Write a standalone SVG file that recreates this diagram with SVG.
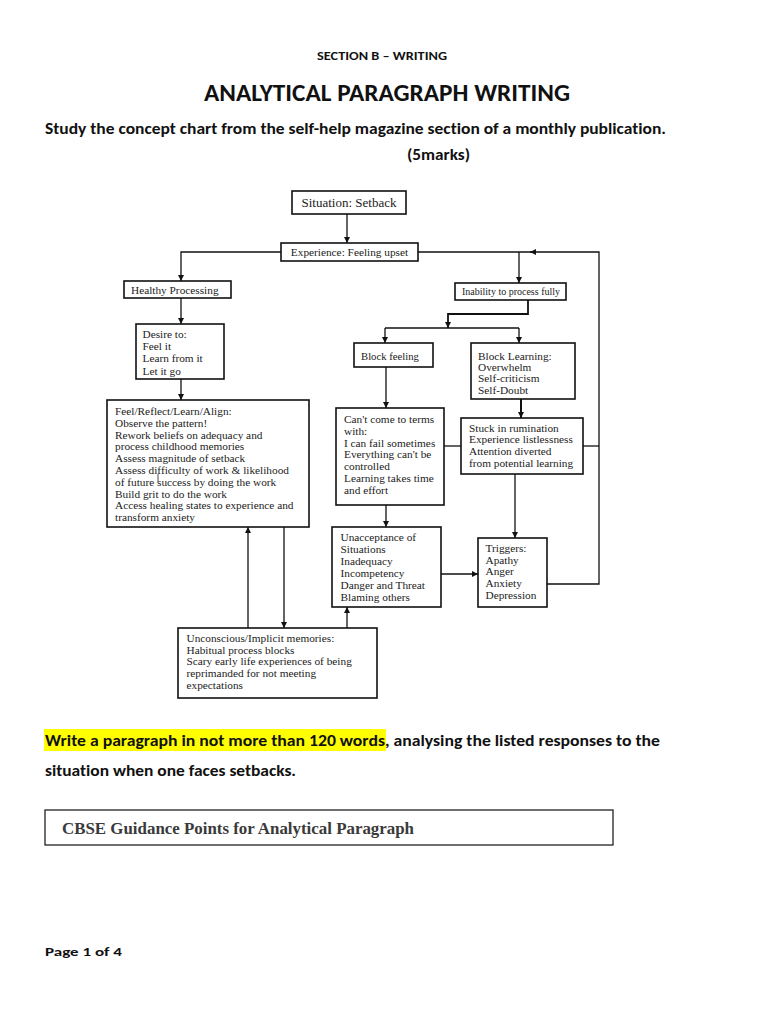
<svg xmlns="http://www.w3.org/2000/svg" width="768" height="1024" viewBox="0 0 768 1024">
<style>
.bg{fill:#ffffff}
.box{fill:#ffffff;stroke:#111;stroke-width:1.6}
.ln{fill:none;stroke:#111;stroke-width:1.3}
.t{font-family:"Liberation Serif","Times New Roman",serif;font-size:11.3px;fill:#222}
.h{font-family:Carlito,Lato,"Open Sans",sans-serif;font-weight:bold;fill:#111;font-variant-ligatures:none}
.cb{font-family:"Liberation Serif","Times New Roman",serif;font-weight:bold;font-size:16px;fill:#3a3a3a}
</style>
<defs>
<marker id="ah" viewBox="0 0 10 10" refX="10" refY="5" markerWidth="6" markerHeight="6" markerUnits="userSpaceOnUse" orient="auto">
<path d="M0,0 L10,5 L0,10 z" fill="#111"/>
</marker>
</defs>
<rect class="bg" x="0" y="0" width="768" height="1024"/>

<g id="header">
<text class="h" x="382" y="60" font-size="12.5" text-anchor="middle" textLength="130" lengthAdjust="spacingAndGlyphs">SECTION B – WRITING</text>
<text class="h" x="387" y="101" font-size="24" text-anchor="middle" textLength="366" lengthAdjust="spacingAndGlyphs">ANALYTICAL PARAGRAPH WRITING</text>
<text class="h" x="45" y="134" font-size="16" textLength="621" lengthAdjust="spacingAndGlyphs">Study the concept chart from the self-help magazine section of a monthly publication.</text>
<text class="h" x="407" y="160" font-size="16" textLength="63" lengthAdjust="spacingAndGlyphs">(5marks)</text>
</g>

<g id="connectors">
<path class="ln" d="M347,214 V243" marker-end="url(#ah)"/>
<path class="ln" d="M281,252 H181 V281" marker-end="url(#ah)"/>
<path class="ln" d="M547,584 H599 V252 H530" marker-end="url(#ah)"/>
<path class="ln" d="M533,252 H418"/>
<path class="ln" d="M519,252 V283" marker-end="url(#ah)"/>
<path class="ln" d="M181,298 V324" marker-end="url(#ah)"/>
<path class="ln" d="M181,379 V400" marker-end="url(#ah)"/>
<path class="ln" d="M528,300 V314 H448 V328" marker-end="url(#ah)" style="stroke-width:1.8"/>
<path class="ln" d="M385,328 H519"/>
<path class="ln" d="M385,328 V343" marker-end="url(#ah)"/>
<path class="ln" d="M519,328 V343" marker-end="url(#ah)"/>
<path class="ln" d="M386,367 V408" marker-end="url(#ah)"/>
<path class="ln" d="M521,399 V418" marker-end="url(#ah)" style="stroke-width:2"/>
<path class="ln" d="M444,446 H461"/>
<path class="ln" d="M583,446 H599"/>
<path class="ln" d="M515,474 V538" marker-end="url(#ah)"/>
<path class="ln" d="M386,505 V527" marker-end="url(#ah)"/>
<path class="ln" d="M441,574 H478" marker-end="url(#ah)"/>
<path class="ln" d="M248,628 V527" marker-end="url(#ah)"/>
<path class="ln" d="M284,527 V628" marker-end="url(#ah)"/>
<path class="ln" d="M347,628 V607" marker-end="url(#ah)"/>
</g>

<g id="situation">
<rect class="box" x="292" y="191" width="114" height="23"/>
<text class="t" x="349" y="206.5" style="font-size:13px" text-anchor="middle">Situation: Setback</text>
</g>
<g id="experience">
<rect class="box" x="281" y="243" width="137" height="18"/>
<text class="t" x="349.5" y="256" text-anchor="middle">Experience: Feeling upset</text>
</g>
<g id="healthy">
<rect class="box" x="124" y="281" width="107" height="17"/>
<text class="t" x="131" y="293.5">Healthy Processing</text>
</g>
<g id="inability">
<rect class="box" x="455" y="283" width="111" height="17"/>
<text class="t" x="462" y="295" style="font-size:10px">Inability to process fully</text>
</g>
<g id="desire">
<rect class="box" x="136" y="324" width="88" height="55"/>
<text class="t" x="142.5"><tspan x="142.5" y="337.8">Desire to:</tspan><tspan x="142.5" y="350.1">Feel it</tspan><tspan x="142.5" y="362.4">Learn from it</tspan><tspan x="142.5" y="374.7">Let it go</tspan></text>
</g>
<g id="feel">
<rect class="box" x="107" y="400" width="202" height="127"/>
<text class="t"><tspan x="115" y="415">Feel/Reflect/Learn/Align:</tspan><tspan x="115" y="426.8">Observe the pattern!</tspan><tspan x="115" y="438.6">Rework beliefs on adequacy and</tspan><tspan x="115" y="450.4">process childhood memories</tspan><tspan x="115" y="462.2">Assess magnitude of setback</tspan><tspan x="115" y="474">Assess difficulty of work &amp; likelihood</tspan><tspan x="115" y="485.8">of future success by doing the work</tspan><tspan x="115" y="497.6">Build grit to do the work</tspan><tspan x="115" y="509.4">Access healing states to experience and</tspan><tspan x="115" y="521.2">transform anxiety</tspan></text>
<path d="M158,474 V482" stroke="#222" stroke-width="0.8"/>
</g>
<g id="blockfeeling">
<rect class="box" x="354" y="343" width="79" height="24"/>
<text class="t" x="361" y="359.5" style="font-size:10.7px">Block feeling</text>
</g>
<g id="blocklearning">
<rect class="box" x="471" y="343" width="104" height="56"/>
<text class="t"><tspan x="478" y="359.5">Block Learning:</tspan><tspan x="478" y="370.9">Overwhelm</tspan><tspan x="478" y="382.3">Self-criticism</tspan><tspan x="478" y="393.7">Self-Doubt</tspan></text>
</g>
<g id="cantcome">
<rect class="box" x="336" y="408" width="108" height="97"/>
<text class="t"><tspan x="344" y="423">Can't come to terms</tspan><tspan x="344" y="434.8">with:</tspan><tspan x="344" y="446.6">I can fail sometimes</tspan><tspan x="344" y="458.4">Everything can't be</tspan><tspan x="344" y="470.2">controlled</tspan><tspan x="344" y="482">Learning takes time</tspan><tspan x="344" y="493.8">and effort</tspan></text>
</g>
<g id="stuck">
<rect class="box" x="461" y="418" width="122" height="56"/>
<text class="t"><tspan x="469" y="431.5">Stuck in rumination</tspan><tspan x="469" y="443.4">Experience listlessness</tspan><tspan x="469" y="455.3">Attention diverted</tspan><tspan x="469" y="467.2">from potential learning</tspan></text>
</g>
<g id="unacceptance">
<rect class="box" x="332" y="527" width="109" height="80"/>
<text class="t"><tspan x="340.5" y="541">Unacceptance of</tspan><tspan x="340.5" y="552.9">Situations</tspan><tspan x="340.5" y="564.8">Inadequacy</tspan><tspan x="340.5" y="576.7">Incompetency</tspan><tspan x="340.5" y="588.6">Danger and Threat</tspan><tspan x="340.5" y="600.5">Blaming others</tspan></text>
</g>
<g id="triggers">
<rect class="box" x="478" y="538" width="69" height="69"/>
<text class="t"><tspan x="485.5" y="552">Triggers:</tspan><tspan x="485.5" y="563.7">Apathy</tspan><tspan x="485.5" y="575.4">Anger</tspan><tspan x="485.5" y="587.1">Anxiety</tspan><tspan x="485.5" y="598.8">Depression</tspan></text>
</g>
<g id="unconscious">
<rect class="box" x="178" y="628" width="199" height="70"/>
<text class="t"><tspan x="186.5" y="642">Unconscious/Implicit memories:</tspan><tspan x="186.5" y="653.7">Habitual process blocks</tspan><tspan x="186.5" y="665.4">Scary early life experiences of being</tspan><tspan x="186.5" y="677.1">reprimanded for not meeting</tspan><tspan x="186.5" y="688.8">expectations</tspan></text>
</g>

<g id="task">
<rect x="44" y="729" width="342" height="22" fill="#ffff00"/>
<text class="h" x="45" y="746" font-size="16" textLength="615" lengthAdjust="spacingAndGlyphs">Write a paragraph in not more than 120 words, analysing the listed responses to the</text>
<text class="h" x="45" y="776" font-size="16" textLength="251" lengthAdjust="spacingAndGlyphs">situation when one faces setbacks.</text>
</g>
<g id="guidance">
<rect x="45" y="810" width="568" height="35" fill="#ffffff" stroke="#222" stroke-width="1.3"/>
<text class="cb" x="62" y="834" textLength="352" lengthAdjust="spacingAndGlyphs">CBSE Guidance Points for Analytical Paragraph</text>
</g>
<g id="footer">
<text class="h" x="45" y="956" font-size="12.5" textLength="77" lengthAdjust="spacingAndGlyphs">Page 1 of 4</text>
</g>
</svg>
